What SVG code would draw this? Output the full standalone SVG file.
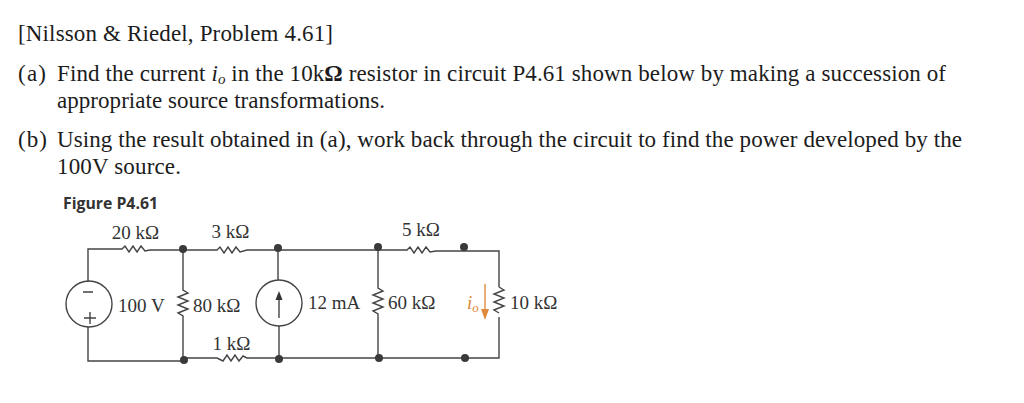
<svg xmlns="http://www.w3.org/2000/svg" width="1024" height="403" viewBox="0 0 1024 403">
<style>
.t{font-family:"Liberation Serif","Times New Roman",serif;font-size:23px;fill:#1c1c1c}
.l{font-family:"Liberation Serif","Times New Roman",serif;font-size:19px;fill:#333}
.w{fill:none;stroke:#444;stroke-width:1.4}
.d{fill:#3a3a3a}
</style>
<rect width="1024" height="403" fill="#fff"/>
<g id="text">
<text class="t" x="18" y="41" textLength="315" lengthAdjust="spacing">[Nilsson &amp; Riedel, Problem 4.61]</text>
<text class="t" x="18" y="81" textLength="28">(a)</text>
<text class="t" x="57" y="81" textLength="889" lengthAdjust="spacing">Find the current <tspan font-style="italic">i</tspan><tspan font-style="italic" font-size="15" dy="3">o</tspan><tspan dy="-3"> in the 10k</tspan><tspan font-weight="bold">Ω</tspan> resistor in circuit P4.61 shown below by making a succession of</text>
<text class="t" x="57" y="108" textLength="328" lengthAdjust="spacing">appropriate source transformations.</text>
<text class="t" x="18" y="147" textLength="29">(b)</text>
<text class="t" x="57" y="147" textLength="905" lengthAdjust="spacing">Using the result obtained in (a), work back through the circuit to find the power developed by the</text>
<text class="t" x="57" y="174" textLength="124" lengthAdjust="spacing">100V source.</text>
<text x="63" y="209" font-family="'Open Sans','Liberation Sans',sans-serif" font-size="16" font-weight="bold" fill="#333" textLength="95" lengthAdjust="spacingAndGlyphs">Figure P4.61</text>
</g>
<g id="connectors">
<path class="w" d="M88 282V249H122l3-3 4 6 4-6 4 6 4-6 4 5 5-1H183H217l3-3 4 6 4-6 4 6 4-6 4 5 7-2H278H407l3-3 4 6 4-6 4 6 4-6 4 5 6-1H464H499V287"/>
<path class="w" d="M499 317V358H465H378H278H247l-4-2-4 5-4-6-4 6-4-6-4 6-6-3H183V361H88V327"/>
<path class="w" d="M183 249V290l5 3-10 4 10 4-10 4 10 4-10 4 5 3V360"/>
<path class="w" d="M378 247V288l5 3-10 4 10 4-10 4 10 4-10 4 5 3V358"/>
<path class="w" d="M278 248V280M279 326V359"/>
<path class="w" d="M499 287l5 3-10 4 10 4-10 4 10 4-10 4 5 3"/>
</g>
<g id="n-20k"><text class="l" x="135.500" y="239" text-anchor="middle">20 kΩ</text></g>
<g id="n-3k"><text class="l" x="230.500" y="238" text-anchor="middle">3 kΩ</text></g>
<g id="n-5k"><text class="l" x="421" y="236" text-anchor="middle">5 kΩ</text></g>
<g id="n-1k"><text class="l" x="231.500" y="350" text-anchor="middle">1 kΩ</text></g>
<g id="n-80k"><text class="l" x="193" y="312">80 kΩ</text></g>
<g id="n-60k"><text class="l" x="388" y="309">60 kΩ</text></g>
<g id="n-10k"><text class="l" x="510" y="309">10 kΩ</text></g>
<g id="n-vs">
<circle class="w" cx="89" cy="304" r="23" fill="#fff"/>
<path class="w" d="M83 292H93M84 318H96M90 312V324"/>
<text class="l" x="118" y="312">100 V</text>
</g>
<g id="n-is">
<circle class="w" cx="279" cy="303" r="23" fill="#fff"/>
<path class="w" d="M279 318V298"/><path d="M279 291l-3.500 9h7z" fill="#333"/>
<text class="l" x="308" y="309">12 mA</text>
</g>
<g id="n-io">
<path d="M485 284V310" stroke="#e08a3c" stroke-width="1.4" fill="none"/>
<path d="M485 320l-4-11h8z" fill="#e08a3c"/>
<text x="467" y="309" font-family="'Liberation Serif',serif" font-size="19" font-style="italic" fill="#e08a3c">i<tspan font-size="13" dy="3">o</tspan></text>
</g>
<g id="junctions">
<circle class="d" cx="183" cy="249" r="4"/><circle class="d" cx="278" cy="248" r="4"/><circle class="d" cx="378" cy="247" r="4"/><circle class="d" cx="464" cy="247" r="4"/>
<circle class="d" cx="184" cy="360" r="4"/><circle class="d" cx="279" cy="359" r="4"/><circle class="d" cx="379" cy="358" r="4"/><circle class="d" cx="465" cy="358" r="4"/>
</g>
</svg>
